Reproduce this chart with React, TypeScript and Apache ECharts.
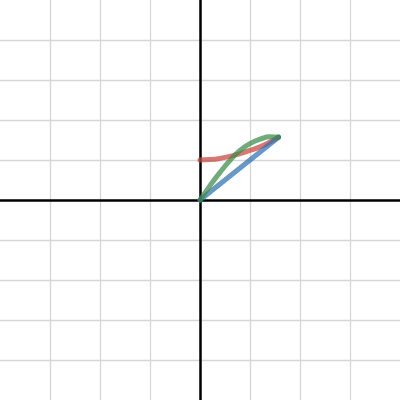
import { useEffect, useRef } from 'react'
import * as echarts from 'echarts'

// values (graph units)
const blueLine: [number, number][] = [
  [0, 0],
  [1.57, 1.57],
]

const redCurve: [number, number][] = [
  [0, 1.0],
  [0.2, 1.01],
  [0.4, 1.04],
  [0.6, 1.09],
  [0.8, 1.16],
  [1.0, 1.24],
  [1.2, 1.33],
  [1.4, 1.45],
  [1.57, 1.57],
]

const greenCurve: [number, number][] = [
  [0, 0],
  [0.2, 0.36],
  [0.4, 0.69],
  [0.6, 0.99],
  [0.8, 1.24],
  [1.0, 1.41],
  [1.2, 1.52],
  [1.4, 1.58],
  [1.57, 1.57],
]

const xRange = [-4, 4]
const yRange = [-5, 5]

const curve = (data: [number, number][], color: string) => ({
  type: 'line' as const,
  data,
  smooth: true,
  symbol: 'none',
  lineStyle: { color, width: 5, opacity: 0.72, cap: 'round' as const, join: 'round' as const },
  z: 3,
})

export default function App() {
  const chartRef = useRef<HTMLDivElement>(null)

  useEffect(() => {
    document.body.style.margin = '0'
    if (!chartRef.current) return
    const chart = echarts.init(chartRef.current, undefined, { renderer: 'svg' })

    const axisCommon = {
      type: 'value' as const,
      interval: 1,
      axisLabel: { show: false },
      axisTick: { show: false },
      axisLine: { show: true, onZero: true, lineStyle: { color: '#000', width: 2.5 } },
      splitLine: {
        show: true,
        showMinLine: false,
        showMaxLine: false,
        lineStyle: { color: '#d6d6d6', width: 1.3 },
      },
      z: 2,
    }

    chart.setOption({
      animation: false,
      backgroundColor: '#fff',
      grid: { left: 0, right: 0, top: 0, bottom: 0, containLabel: false },
      xAxis: { ...axisCommon, min: xRange[0], max: xRange[1] },
      yAxis: { ...axisCommon, min: yRange[0], max: yRange[1] },
      series: [
        curve(redCurve, '#c74440'),
        curve(blueLine, '#2d70b3'),
        curve(greenCurve, '#388c46'),
      ],
    })

    return () => {
      chart.dispose()
    }
  }, [])

  return <div ref={chartRef} style={{ width: 400, height: 400 }} />
}
